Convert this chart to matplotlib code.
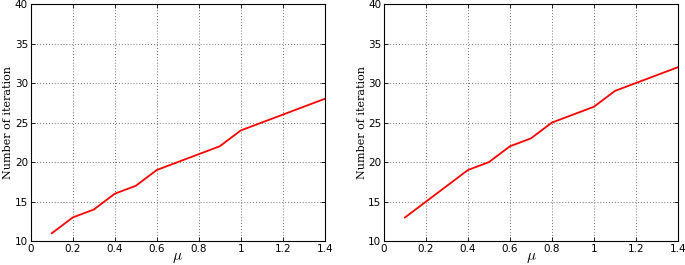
import matplotlib
matplotlib.use('Agg')
import matplotlib.pyplot as plt

mu = [0.1, 0.2, 0.3, 0.4, 0.5, 0.6, 0.7, 0.8, 0.9, 1.0, 1.1, 1.2, 1.3, 1.4]
iters_left = [11, 13, 14, 16, 17, 19, 20, 21, 22, 24, 25, 26, 27, 28]
iters_right = [13, 15, 17, 19, 20, 22, 23, 25, 26, 27, 29, 30, 31, 32]
xticks = [0, 0.2, 0.4, 0.6, 0.8, 1, 1.2, 1.4]
xticklabels = ['0', '0.2', '0.4', '0.6', '0.8', '1', '1.2', '1.4']
yticks = [10, 15, 20, 25, 30, 35, 40]

plt.rcParams['mathtext.fontset'] = 'cm'
fig = plt.figure(figsize=(6.85, 2.65), dpi=100)
ax1 = fig.add_axes([0.045, 0.09, 0.429, 0.895])
ax2 = fig.add_axes([0.5606, 0.09, 0.429, 0.895])

for ax, y in [(ax1, iters_left), (ax2, iters_right)]:
    ax.plot(mu, y, color='red', lw=1.3)
    ax.set_xlim(0, 1.4)
    ax.set_ylim(10, 40)
    ax.set_xticks(xticks)
    ax.set_xticklabels(xticklabels)
    ax.set_yticks(yticks)
    ax.tick_params(labelsize=7.5, direction='in', length=3, width=0.6, pad=2,
                   top=True, right=True)
    ax.grid(True, linestyle=(0, (1, 2.5)), color='#444444', lw=0.6)
    for s in ax.spines.values():
        s.set_linewidth(0.8)
    ax.set_ylabel('Number of iteration', family='DejaVu Serif', fontsize=8, labelpad=1)
    ax.set_xlabel(r'$\mu$', fontsize=11, labelpad=-3)

fig.savefig('out.png', dpi=100)
